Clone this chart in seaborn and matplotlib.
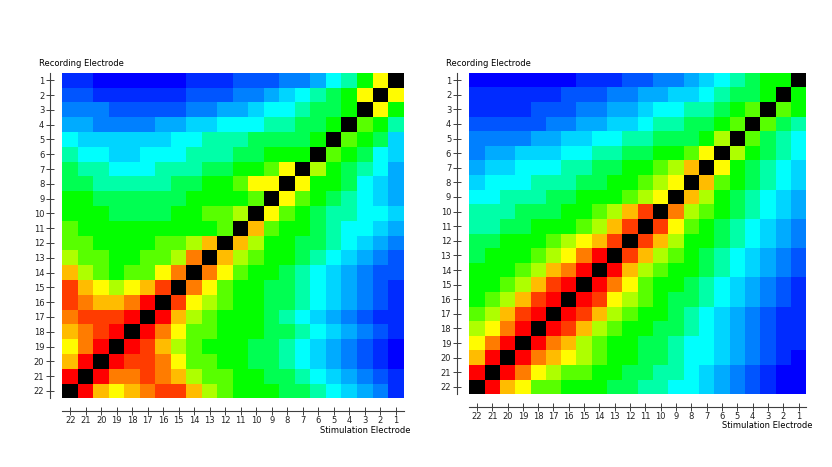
import numpy as np
import pandas as pd
import seaborn as sns
import matplotlib.pyplot as plt
from matplotlib.colors import LinearSegmentedColormap

# levels 0..16 written as 0-9,a-g ; x = diagonal (drawn black)
# each string is one recording electrode (1 at top), columns left to right = stimulation 22..1
left_rows = [
    "11000000111222334679cx",
    "2211111122233456789cxc",
    "3332222233445667889axc9",
    "443333445566677889axa97",
    "65555556677788889axa985",
    "7665566677788999bxa9865",
    "8776667778899acxb98764",
    "8877777889 9acxc998654".replace(" ", ""),
    "998888889999abcxca987654",
    "999888899aabdxca98776654",
    "a999999999abdxda99876654",
    "aa9999aabdxdb998876543",
    "baa99aabexdba998765432",
    "dba9aacexeca998765432 2".replace(" ", ""),
    "fdcbcdfxeca99887654321",
    "feddegxfcba99887654321",
    "efffgxgdba99987654321",
    "defgxgecaa999887654321",
    "cegxgfdba999887654321 0".replace(" ", ""),
    "dgxgffecaa99887654321 0".replace(" ", ""),
    "gxgeefedbaa99887654321",
    "xgdcdeffdba99988765431",
]
right_rows = [
    "000000011122334567899x",
    "11111122233445567889x9",
    "111122233445667789axa98",
    "22222334455677889axa87",
    "3333445566778889bxa876",
    "34455566778899acxb9876",
    "455666778899abdxc98765",
    "56667778899abcexda98765",
    "6677788999abcexdb987654",
    "77788899abdfxeba987654",
    "7788999abdfxfca9876543",
    "88999abcdfxfdb99876543",
    "8999abcegxfdba98765432",
    "999abdegxgdba998765432",
    "99abdfgxgeca998765432 1".replace(" ", ""),
    "9abdfgxgfcba9887654321",
    "abdfgxgfdba99876543211",
    "bcegxgfdba998876543211",
    "cegxgedba9988766543211",
    "dgxgedcba99887665432 10".replace(" ", ""),
    "gxgecbaa9988776543210 0".replace(" ", ""),
    "xgdcaa999887766543210 0".replace(" ", ""),
]

stim_labels = [str(i) for i in range(22, 0, -1)]
rec_labels = [str(i) for i in range(1, 23)]


def to_frame(rows):
    digits = "0123456789abcdefg"
    mat = []
    for r, s in enumerate(rows):
        vals = [np.nan if ch == "x" else digits.index(ch) / 16 for ch in s]
        # keep the diagonal in the right spot: trim / pad around it
        d = 21 - r
        k = s.index("x")
        before, after = vals[:k], vals[k + 1:]
        before = (before + [before[-1]] * d)[:d] if d else []
        na = 21 - d
        after = (after + [after[-1] if after else 0] * na)[:na] if na else []
        mat.append(before + [np.nan] + after)
    return pd.DataFrame(mat, index=rec_labels, columns=stim_labels)


cmap = LinearSegmentedColormap.from_list(
    "elec",
    [(0.0, "#0000ff"), (0.375, "#00ffff"), (0.5625, "#00ff00"),
     (0.75, "#ffff00"), (1.0, "#ff0000")])

fig = plt.figure(figsize=(8.32, 4.67), dpi=100)
boxes = [[0.075, 0.147, 0.41, 0.697], [0.564, 0.156, 0.405, 0.688]]

for rows, box in zip([left_rows, right_rows], boxes):
    ax = fig.add_axes(box)
    ax.set_facecolor("black")
    sns.heatmap(to_frame(rows), ax=ax, cmap=cmap, vmin=0, vmax=1, cbar=False,
                square=False, linewidths=0)
    for side in ["left", "bottom"]:
        ax.spines[side].set_visible(True)
        ax.spines[side].set_color("#404040")
        ax.spines[side].set_linewidth(0.8)
        ax.spines[side].set_position(("outward", 9))
    ax.tick_params(axis="both", direction="inout", length=6, width=0.7,
                   labelsize=6, colors="#404040", labelcolor="#222222", pad=1)
    ax.set_yticklabels(rec_labels, rotation=0)
    ax.set_xticklabels(stim_labels, rotation=0)
    ax.set_xlabel("")
    ax.set_ylabel("")
    ax.text(-0.07, 1.015, "Recording Electrode", transform=ax.transAxes,
            fontsize=6, ha="left", va="bottom")
    ax.text(1.02, -0.085, "Stimulation Electrode", transform=ax.transAxes,
            fontsize=6, ha="right", va="top")

fig.savefig("out.png", dpi=100, facecolor="white")
